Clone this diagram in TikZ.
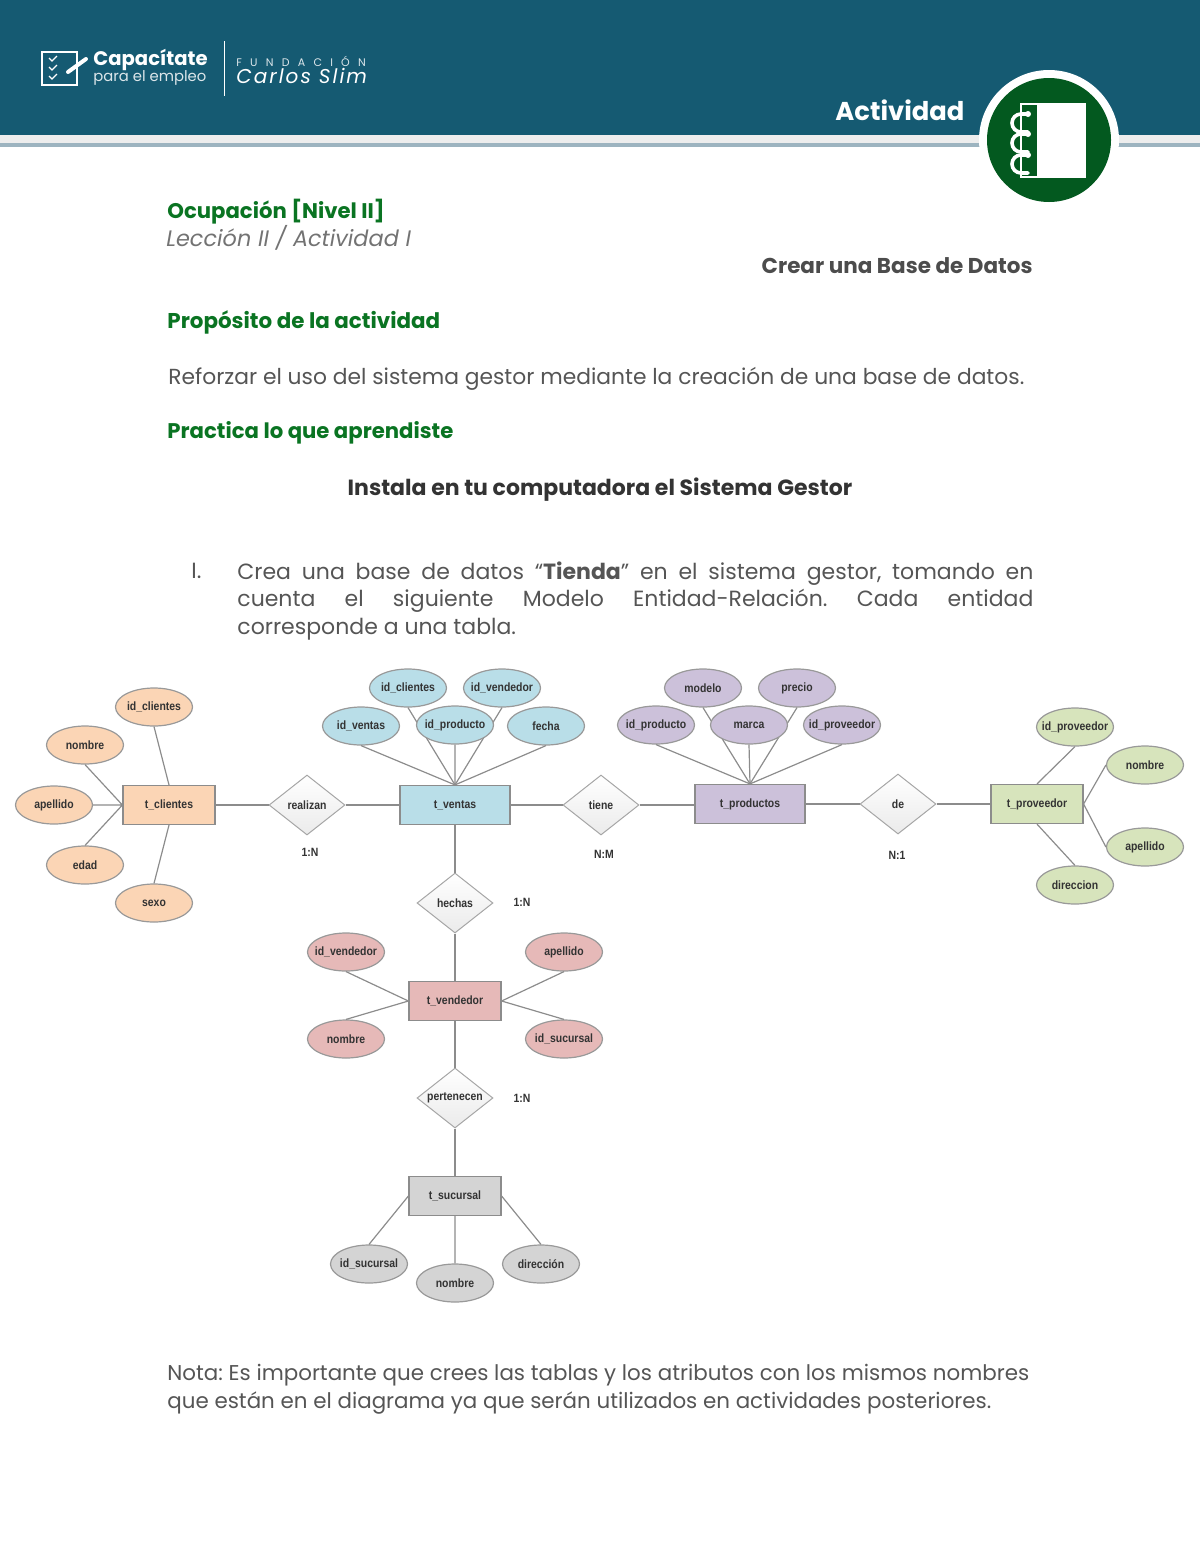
\documentclass[tikz,border=0pt]{standalone}
\usepackage{fontspec}
\usepackage{tikz}
\usetikzlibrary{shapes.geometric}
\setmainfont{Poppins}
\newfontfamily\erfont[FakeStretch=0.87]{Liberation Sans}
\newfontfamily\fundfont[LetterSpace=75]{Poppins}
\newfontfamily\slimfont[LetterSpace=10]{Poppins}
\newcommand{\lbl}[1]{\makebox[0pt]{#1}}
\frenchspacing
\definecolor{bandblue}{HTML}{155A72}
\definecolor{bandgrey}{HTML}{9DB4C0}
\definecolor{darkgreen}{HTML}{03591F}
\definecolor{headgreen}{HTML}{0A7422}
\definecolor{bodygrey}{HTML}{555555}
\definecolor{orangefill}{HTML}{FBD5B5}
\definecolor{bluefill}{HTML}{B9DEE8}
\definecolor{purplefill}{HTML}{CCC1DA}
\definecolor{greenfill}{HTML}{D7E4BC}
\definecolor{redfill}{HTML}{E6B9B8}
\definecolor{greyfill}{HTML}{D4D4D4}
\tikzset{
  erlabel/.style={font=\erfont\bfseries\fontsize{6}{6.5}\selectfont, text=black!80, inner sep=0pt},
  entity/.style={erlabel, draw=black!45, minimum height=19.5pt, line width=0.6pt},
  attrib/.style={erlabel, ellipse, draw=black!40, minimum width=38.5pt, minimum height=19pt, line width=0.6pt},
  relation/.style={erlabel, diamond, draw=black!35, top color=white, bottom color=black!8, minimum width=38pt, minimum height=30pt, line width=0.5pt},
  cardinal/.style={erlabel},
  link/.style={draw=black!45, line width=0.6pt},
  heading/.style={inner sep=0pt, anchor=west, text=headgreen},
  bodytext/.style={inner sep=0pt, anchor=west, text=bodygrey, font=\fontsize{11}{14}\selectfont},
}
\begin{document}
\begin{tikzpicture}[x=0.5pt,y=-0.5pt]
  \useasboundingbox (0,0) rectangle (1200,1553);
  % banner
  \fill [bandblue] (0,0) rectangle (1200,135);
  \fill [black!7] (0,135) rectangle (1200,143);
  \fill [bandgrey] (0,143) rectangle (1200,147);
  \node (capa) [inner sep=0pt, anchor=west, text=white, font=\bfseries\fontsize{9.8}{10}\selectfont] at (93,60) {Capacítate};
  \node (para) [inner sep=0pt, anchor=west, text=white!85!bandblue, font=\fontsize{7.4}{9}\selectfont] at (93,78) {para el empleo};
  \draw [white, line width=0.5pt] (224,41) -- (224,96);
  \node (fund) [inner sep=0pt, anchor=west, text=white!85!bandblue, font=\fundfont\fontsize{5.5}{7}\selectfont] at (236,61) {FUNDACIÓN};
  \node (slim) [inner sep=0pt, anchor=west, text=white, font=\slimfont\itshape\fontsize{10}{10}\selectfont] at (236,76) {Carlos Slim};
  % clipboard
  \draw [white, line width=0.6pt] (42,52) rectangle (77,85);
  \draw [white, line width=0.6pt] (49,58) -- (52,61) -- (57,56) (49,67) -- (52,70) -- (57,65) (49,76) -- (52,79) -- (57,74);
  \draw [white, line width=2pt, line cap=round] (68,72) -- (86,59);
  \node (acti) [inner sep=0pt, anchor=west, text=white, font=\bfseries\fontsize{12.9}{15}\selectfont] at (835,110) {Actividad};
  % badge
  \fill [white] (1049,140) circle [radius=70];
  \fill [darkgreen] (1049,140) circle [radius=62];
  \draw [white, line width=0.7pt] (1021,104) rectangle (1085,177);
  \fill [white] (1037,104) rectangle (1085,177);
  \foreach \y in {123,143,164} {
    \draw [white, line width=1.8pt, line cap=round] (1028,\y-9) -- (1021,\y-9) arc [start angle=270, end angle=90, radius=9] -- (1028,\y+9);
    \fill [white] (1028,\y-9) circle [radius=3];
  }
  % text
  \node (ocup) [heading, font=\bfseries\fontsize{10.6}{13}\selectfont] at (167,212) {Ocupación [Nivel II]};
  \node (lecc) [bodytext, text=black!55, font=\itshape\fontsize{11.2}{13}\selectfont] at (166,238) {Lección II / Actividad I};
  \node (crear) [inner sep=0pt, anchor=east, text=black!70, font=\bfseries\fontsize{10.75}{13}\selectfont] at (1033,266) {Crear una Base de Datos};
  \node (prop) [heading, font=\bfseries\fontsize{10.7}{13}\selectfont] at (167,322) {Propósito de la actividad};
  \node (refo) [bodytext, font=\fontsize{10.9}{14}\selectfont] at (168,379) {Reforzar el uso del sistema gestor mediante la creación de una base de datos.};
  \node (prac) [heading, font=\bfseries\fontsize{10.6}{13}\selectfont] at (167,433) {Practica lo que aprendiste};
  \node (inst) [inner sep=0pt, text=black!80, font=\bfseries\fontsize{11}{13}\selectfont] at (600,490) {Instala en tu computadora el Sistema Gestor};
  \node (numi) [bodytext] at (191,571) {I.};
  \node (crea) [bodytext, anchor=north west, text width=398pt, align=justify, font=\fontsize{11}{13.75}\selectfont] at (237,561) {Crea una base de datos “\textbf{Tienda}” en el sistema gestor, tomando en\linebreak cuenta el siguiente Modelo Entidad-Relación. Cada entidad\linebreak corresponde a una tabla.};
  \node (nota) [bodytext, anchor=north west, align=left, font=\fontsize{10.7}{14}\selectfont] at (167,1364) {Nota: Es importante que crees las tablas y los atributos con los mismos nombres\\que están en el diagrama ya que serán utilizados en actividades posteriores.};
  % entities
  \node (tcli) [entity, fill=orangefill, minimum width=46pt] at (169,805) {t\_clientes};
  \node (tven) [entity, fill=bluefill, minimum width=55pt] at (455,805) {t\_ventas};
  \node (tpro) [entity, fill=purplefill, minimum width=55pt] at (750,804) {t\_productos};
  \node (tprv) [entity, fill=greenfill, minimum width=46pt] at (1037,804) {t\_proveedor};
  \node (tvnd) [entity, fill=redfill, minimum width=46pt] at (455,1001) {t\_vendedor};
  \node (tsuc) [entity, fill=greyfill, minimum width=46pt] at (455,1196) {t\_sucursal};
  % relations
  \node (real) [relation] at (307,805) {\lbl{realizan}};
  \node (tien) [relation] at (601,805) {\lbl{tiene}};
  \node (de) [relation] at (898,804) {\lbl{de}};
  \node (hech) [relation] at (455,903) {\lbl{hechas}};
  \node (pert) [relation] at (455,1098) {\lbl{pertenecen}};
  % cardinalities
  \node (c1) [cardinal] at (310,852) {1:N};
  \node (c2) [cardinal] at (604,854) {N:M};
  \node (c3) [cardinal] at (897,855) {N:1};
  \node (c4) [cardinal] at (522,902) {1:N};
  \node (c5) [cardinal] at (522,1098) {1:N};
  % main connectors
  \draw [link] (tcli) -- (real) (real) -- (tven) (tven) -- (tien) (tien) -- (tien -| tpro.west) (tpro) -- (de) (de) -- (tprv);
  \draw [link] (tven) -- (hech) (hech) -- (tvnd) (tvnd) -- (pert) (pert) -- (tsuc);
  % attributes
  \begin{scope}[every node/.append style={attrib, fill=orangefill}]
    \node (a1) at (154,707) {\lbl{id\_clientes}};
    \node (a2) at (85,745) {\lbl{nombre}};
    \node (a3) at (54,805) {\lbl{apellido}};
    \node (a4) at (85,865) {\lbl{edad}};
    \node (a5) at (154,903) {\lbl{sexo}};
  \end{scope}
  \begin{scope}[every node/.append style={attrib, fill=bluefill}]
    \node (b1) at (408,688) {\lbl{id\_clientes}};
    \node (b2) at (502,688) {\lbl{id\_vendedor}};
    \draw [link] (b1.south) -- (tven.north) (b2.south) -- (tven.north);
    \node (b3) at (361,726) {\lbl{id\_ventas}};
    \node (b4) at (455,725) {\lbl{id\_producto}};
    \node (b5) at (546,726) {\lbl{fecha}};
  \end{scope}
  \begin{scope}[every node/.append style={attrib, fill=purplefill}]
    \node (p1) at (703,688) {\lbl{modelo}};
    \node (p2) at (797,688) {\lbl{precio}};
    \draw [link] (p1.south) -- (tpro.north) (p2.south) -- (tpro.north);
    \node (p3) at (656,725) {\lbl{id\_producto}};
    \node (p4) at (749,725) {\lbl{marca}};
    \node (p5) at (842,725) {\lbl{id\_proveedor}};
  \end{scope}
  \begin{scope}[every node/.append style={attrib, fill=greenfill}]
    \node (g1) at (1075,727) {\lbl{id\_proveedor}};
    \node (g2) at (1145,765) {\lbl{nombre}};
    \node (g3) at (1145,847) {\lbl{apellido}};
    \node (g4) at (1075,885) {\lbl{direccion}};
  \end{scope}
  \begin{scope}[every node/.append style={attrib, fill=redfill}]
    \node (r1) at (346,952) {\lbl{id\_vendedor}};
    \node (r2) at (346,1039) {\lbl{nombre}};
    \node (r3) at (564,952) {\lbl{apellido}};
    \node (r4) at (564,1039) {\lbl{id\_sucursal}};
  \end{scope}
  \begin{scope}[every node/.append style={attrib, fill=greyfill}]
    \node (s1) at (369,1264) {\lbl{id\_sucursal}};
    \node (s2) at (455,1283) {\lbl{nombre}};
    \node (s3) at (541,1264) {\lbl{dirección}};
  \end{scope}
  % attribute connectors
  \draw [link] (a1.south) -- (tcli.north) (a2.south) -- (tcli.west) (a3) -- (tcli.west) (a4.north) -- (tcli.west) (a5.north) -- (tcli.south);
  \draw [link] (b3.south) -- (tven.north) (b4.south) -- (tven.north) (b5.south) -- (tven.north);
  \draw [link] (p3.south) -- (tpro.north) (p4.south) -- (tpro.north) (p5.south) -- (tpro.north);
  \draw [link] (g1.south) -- (tprv.north) (g2.west) -- (tprv.east) (g3.west) -- (tprv.east) (g4.north) -- (tprv.south);
  \draw [link] (r1.south) -- (tvnd.west) (r2.north) -- (tvnd.west) (r3.south) -- (tvnd.east) (r4.north) -- (tvnd.east);
  \draw [link] (s1.north) -- (tsuc.west) (s2.north) -- (tsuc.south) (s3.north) -- (tsuc.east);
\end{tikzpicture}
\end{document}
